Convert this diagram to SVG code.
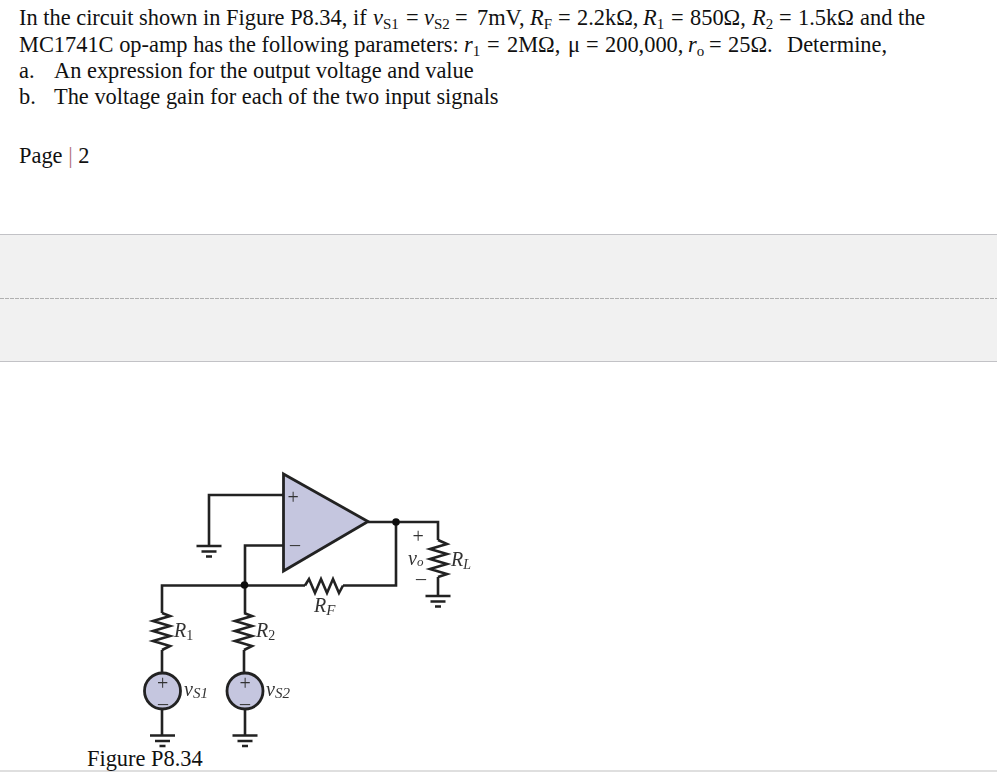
<svg xmlns="http://www.w3.org/2000/svg" width="997" height="772" viewBox="0 0 997 772">
<style>
text{font-family:"Liberation Serif","Times New Roman",serif;fill:#111}
.t{font-size:22.4px}
.i{font-style:italic}
.w{fill:none;stroke:#222;stroke-width:2.6;stroke-linejoin:miter}
.g{fill:none;stroke:#222;stroke-width:2.3}
.s{fill:#c5c6df;stroke:#222;stroke-width:2.8}
.c{font-size:20px;fill:#333}
.m{font-size:20px;fill:#333}
.d{fill:#111}
</style>
<defs>
<filter id="b" x="-5%" y="-5%" width="110%" height="110%"><feGaussianBlur stdDeviation="0.5"/></filter>
<g id="gnd"><path class="g" d="M-12.500 0H12.500M-7.500 5.500H7.500M-3 10.500H3"/></g>
</defs>
<rect width="997" height="772" fill="#fff"/>
<g id="problem">
<text class="t" x="19" y="25">In the circuit shown in Figure P8.34, if <tspan class="i" x="373">v</tspan><tspan font-size="15" dy="4">S1</tspan><tspan dy="-4" x="406">=</tspan><tspan class="i" x="424">v</tspan><tspan font-size="15" dy="4">S2</tspan><tspan dy="-4" x="455">=</tspan><tspan x="477">7mV, </tspan><tspan class="i" x="530">R</tspan><tspan font-size="15" dy="4">F</tspan><tspan dy="-4" x="558">=</tspan><tspan x="577">2.2kΩ, </tspan><tspan class="i" x="643">R</tspan><tspan font-size="15" dy="4">1</tspan><tspan dy="-4" x="671">=</tspan><tspan x="690">850Ω, </tspan><tspan class="i" x="752">R</tspan><tspan font-size="15" dy="4">2</tspan><tspan dy="-4" x="779">=</tspan><tspan x="798">1.5kΩ </tspan><tspan x="860">and the</tspan></text>
<text class="t" x="19" y="52">MC1741C op-amp has the following parameters: <tspan class="i" x="464">r</tspan><tspan font-size="15" dy="4">1</tspan><tspan dy="-4" x="487">=</tspan><tspan x="507">2MΩ, </tspan><tspan x="568">μ</tspan><tspan x="586">=</tspan><tspan x="605">200,000, </tspan><tspan class="i" x="688">r</tspan><tspan font-size="15" dy="4">o</tspan><tspan dy="-4" x="709">=</tspan><tspan x="728">25Ω.</tspan><tspan x="787">Determine,</tspan></text>
<text class="t" x="19" y="78">a.</text><text class="t" x="54" y="78">An expression for the output voltage and value</text>
<text class="t" x="19" y="104">b.</text><text class="t" x="54" y="104">The voltage gain for each of the two input signals</text>
<text class="t" x="19" y="163">Page <tspan fill="#b0707a">|</tspan> 2</text>
</g>
<g id="band">
<rect x="0" y="235" width="997" height="126" fill="#f1f1f1"/>
<path d="M0 234.500H997M0 361.500H997" stroke="#c2c2c6" stroke-width="1" fill="none"/>
<path d="M0 298.500H997" stroke="#b0b0b0" stroke-width="1" stroke-dasharray="4 1" fill="none"/>
<path d="M0 771H997" stroke="#d4d4d4" stroke-width="1.500" fill="none"/>
</g>
<g filter="url(#b)">
<g id="connectors">
<path class="w" d="M283 495H209V546"/>
<path class="w" d="M283 545.500H245V585"/>
<path class="w" d="M162 613V585.500H305M343 585.500H396V522M368 522H438V540"/>
<path class="w" d="M438 577V596"/>
<path class="w" d="M245 585V613"/>
<path class="w" d="M162 650V673M244 650V673M162 709V736M245 709V736"/>
</g>
<g id="opamp"><path class="s" d="M283.500 474L368 521.500L283.500 571Z"/><text class="m" x="287.500" y="503.500">+</text><text class="m" x="290" y="551">–</text></g>
<g id="J1"><circle class="d" cx="244.500" cy="585" r="3.800"/></g>
<g id="J2"><circle class="d" cx="396" cy="522" r="3.800"/></g>
<g id="GND1"><use href="#gnd" x="209" y="546"/></g>
<g id="GND2"><use href="#gnd" x="438" y="596"/></g>
<g id="GND3"><use href="#gnd" x="162.500" y="735.500"/></g>
<g id="GND4"><use href="#gnd" x="245" y="735.500"/></g>
<g id="RF"><path class="w" d="M305 585.500L309 579L315 593L321 579L327 593L333 579L339 593L343 585.500"/><text class="c i" x="314" y="612" font-size="22">R<tspan font-size="15" dy="3">F</tspan></text></g>
<g id="RL"><path class="w" d="M438 540L447 544L430 549L447 554L430 559L447 564L430 569L447 574L438 577"/><text class="c i" x="451" y="566">R<tspan font-size="14" dy="3">L</tspan></text><text class="m" x="412.500" y="542.500">+</text><text class="c i" x="408" y="565" font-size="19">v<tspan font-size="13" dy="1">o</tspan></text><text class="m" x="416" y="585" font-size="15">–</text></g>
<g id="R1"><path class="w" d="M162 613L170 616L153 621L170 626L153 631L170 636L153 641L170 646L162 650"/><text class="c i" x="174" y="637">R<tspan font-size="14" dy="3" font-style="normal">1</tspan></text></g>
<g id="R2"><path class="w" d="M244 613L252 616L235 621L252 626L235 631L252 636L235 641L252 646L244 650"/><text class="c i" x="256" y="637">R<tspan font-size="14" dy="3" font-style="normal">2</tspan></text></g>
<g id="VS1"><circle class="s" cx="162.500" cy="691" r="18"/><text class="m" x="157" y="689.500">+</text><text class="m" x="158" y="710">–</text><text class="c i" x="184" y="696">v<tspan font-size="15" dy="2">S1</tspan></text></g>
<g id="VS2"><circle class="s" cx="245" cy="691" r="18"/><text class="m" x="239.500" y="689.500">+</text><text class="m" x="240" y="710">–</text><text class="c i" x="266" y="696">v<tspan font-size="15" dy="2">S2</tspan></text></g>
</g>
<text class="t" x="87" y="766" id="caption">Figure P8.34</text>
</svg>
